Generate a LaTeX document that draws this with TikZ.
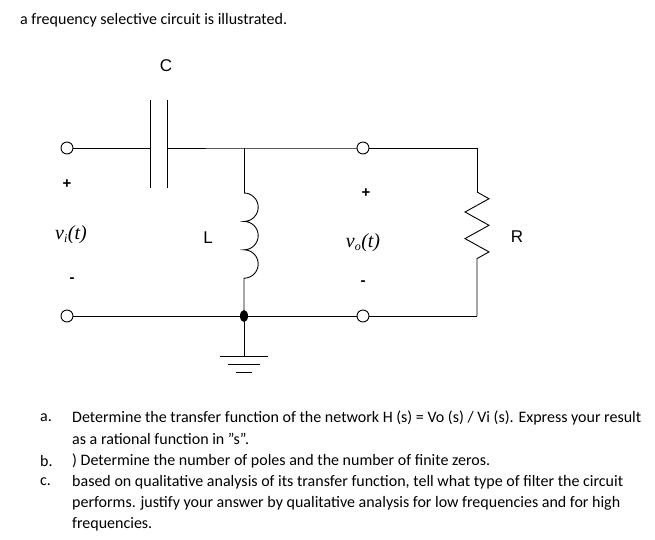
\documentclass[tikz,border=0pt]{standalone}
\usepackage{fontspec}
\setmainfont{Carlito}
\newfontfamily\arial{Liberation Sans}
\newfontfamily\tms{Liberation Serif}
\begin{document}
\begin{tikzpicture}[x=1pt,y=-1pt,
  wire/.style={line width=0.9pt},
  term/.style={circle,draw,line width=0.9pt,fill=white,minimum size=12pt,inner sep=0pt},
  lab/.style={font=\arial\fontsize{17}{20}\selectfont},
  sig/.style={font=\tms\itshape\fontsize{20}{22}\selectfont},
  pm/.style={font=\arial\bfseries\fontsize{15}{17}\selectfont},
  txt/.style={anchor=west,font=\fontsize{16}{18}\selectfont,inner sep=0pt}]
\useasboundingbox (0,0) rectangle (655,539);
\coordinate (j) at (244,148);
\coordinate (g) at (244,316);
\coordinate (rt) at (477,148);
\coordinate (rb) at (477,316);
\coordinate (c1) at (150,148);
\coordinate (c2) at (167,148);
\coordinate (lt) at (244,193);
\coordinate (r1) at (477,192);
\coordinate (gnd) at (244,356);
\draw[wire] (67,148) -- (c1) (c2) -- (j) -- (rt) -- (r1);
\draw[wire] (c1)+(0,-48) -- +(0,40);
\draw[wire] (c2)+(0,-48) -- +(0,40);
\draw[wire] (j) -- (lt);
\draw[wire] (lt) arc(-90:90:14.2) arc(-90:90:14.2) arc(-90:90:14.2) -- (g);
\draw[wire] (r1) -- ++(12,6.7) -- ++(-24,13.3) -- ++(24,13.3) -- ++(-24,13.3) -- ++(24,13.3) -- ++(-12,6.7) -- (rb);
\draw[wire] (rb) -- (67,316);
\draw[wire] (g) -- (gnd);
\draw[wire] (220,356) -- (268,356) (228,364) -- (260,364) (236,372) -- (252,372);
\fill (g) ellipse (4pt and 6pt);
\node[term] (a) at (67,148) {};
\node[term] (b) at (67,316) {};
\node[term] (o1) at (363,148) {};
\node[term] (o2) at (363,316) {};
\node[lab] (lc) at (166,66) {C};
\node[lab] (ll) at (208,238) {L};
\node[lab] (lr) at (517,237) {R};
\node[pm] (p1) at (67,184) {+};
\node[pm] (m1) at (72,280) {-};
\node[pm] (p2) at (366,193) {+};
\node[pm] (m2) at (363,283) {-};
\node[sig] (vi) at (71,235) {v\textsubscript{\fontsize{12}{12}\selectfont i}(t)};
\node[sig] (vo) at (363,243) {v\textsubscript{\fontsize{12}{12}\selectfont o}(t)};
\node[txt] (t0) at (20,20) {a frequency selective circuit is illustrated.};
\node[txt] (ta) at (40,418) {a.};
\node[txt] (ta1) at (72,418) {Determine the transfer function of the network H (s) = Vo (s) / Vi (s). Express your result};
\node[txt] (ta2) at (72,439) {as a rational function in "s".};
\node[txt] (tb) at (40,461) {b.};
\node[txt] (tb1) at (72,461) {) Determine the number of poles and the number of finite zeros.};
\node[txt] (tc) at (40,482) {c.};
\node[txt] (tc1) at (72,482) {based on qualitative analysis of its transfer function, tell what type of filter the circuit};
\node[txt] (tc2) at (72,503) {performs. justify your answer by qualitative analysis for low frequencies and for high};
\node[txt] (tc3) at (72,524) {frequencies.};
\end{tikzpicture}
\end{document}
